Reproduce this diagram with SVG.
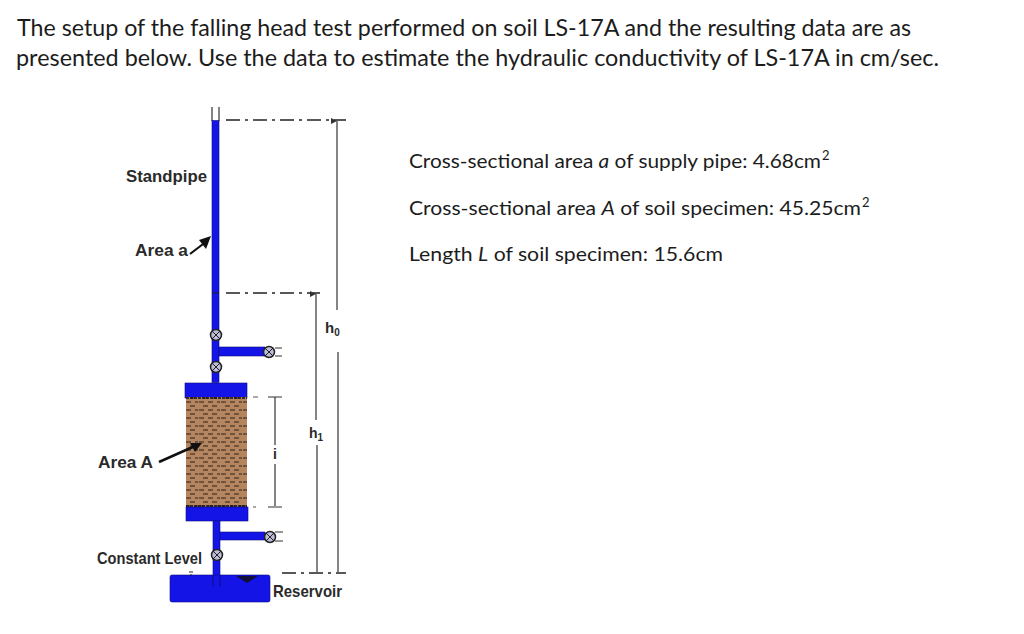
<svg xmlns="http://www.w3.org/2000/svg" width="1024" height="634" viewBox="0 0 1024 634">
<style>
.h{font:23.5px Lato,"Open Sans",sans-serif;fill:#1c1c1c}
.s{font:20px Lato,"Open Sans",sans-serif;fill:#1c1c1c}
.l{font:bold 17px "Liberation Sans",Arial,sans-serif;fill:#2a2a2a}
.w{fill:#1414e6;stroke:#0a0a80;stroke-width:.6}
.d{stroke:#333;stroke-width:1.2;fill:none}
.c{stroke:#222;stroke-width:1.6;fill:none;stroke-dasharray:14 5 3 5}
.v{fill:#bcbcd8;stroke:#222;stroke-width:1.5}
.vx{stroke:#222;stroke-width:1;fill:none}
.soil{stroke:#222;stroke-width:1.1;stroke-dasharray:5 4;fill:none}
</style>
<defs>
<marker id="up" markerWidth="8" markerHeight="8" refX="4" refY="0" orient="auto" markerUnits="userSpaceOnUse"><path d="M4 0L1 6H7Z" fill="#333"/></marker>
<g id="valve"><circle class="v" r="5.5"/><path class="vx" d="M-4-4L4 4M-4 4L4-4"/></g>
<pattern id="sp" width="22" height="8" patternUnits="userSpaceOnUse"><rect width="22" height="8" fill="#b4855f"/><path d="M1 2h5M10 2h5M19 2h3M5 6h5M14 6h5" stroke="#2a2018" stroke-width="1"/></pattern>
</defs>

<g id="title">
<text class="h" x="17" y="36" textLength="894" lengthAdjust="spacingAndGlyphs">The setup of the falling head test performed on soil LS-17A and the resulting data are as</text>
<text class="h" x="16" y="66" textLength="923" lengthAdjust="spacingAndGlyphs">presented below.  Use the data to estimate the hydraulic conductivity of LS-17A in cm/sec.</text>
</g>

<g id="data">
<text class="s" x="409" y="168" textLength="412" lengthAdjust="spacingAndGlyphs">Cross-sectional area <tspan font-style="italic">a</tspan> of supply pipe: 4.68cm</text><text x="822" y="160" style="font:13px Lato,sans-serif;fill:#1c1c1c">2</text>
<text class="s" x="409" y="215" textLength="452" lengthAdjust="spacingAndGlyphs">Cross-sectional area <tspan font-style="italic">A</tspan> of soil specimen: 45.25cm</text><text x="862" y="207" style="font:13px Lato,sans-serif;fill:#1c1c1c">2</text>
<text class="s" x="409" y="261" textLength="314" lengthAdjust="spacingAndGlyphs">Length <tspan font-style="italic">L</tspan> of soil specimen: 15.6cm</text>
</g>

<g id="standpipe">
<path class="d" d="M212 107V121M219 107V121"/>
<rect class="w" x="212" y="120.500" width="7" height="262"/>
<path class="w" d="M219 347H265V356H219Z"/>
<path class="d" d="M275 348H282M275 356H282"/>
<path d="M212 293H219" stroke="#222" stroke-width="1"/>
<use href="#valve" x="216" y="335"/>
<use href="#valve" x="269" y="352"/>
<use href="#valve" x="216" y="367"/>
</g>

<g id="specimen">
<rect class="w" x="185" y="383" width="62" height="15"/>
<rect x="186" y="397" width="61" height="110" fill="url(#sp)"/>
<path d="M186 398H247M186 506H247" stroke="#111" stroke-width="1.6" stroke-dasharray="3 1"/>
<rect class="w" x="186" y="507" width="62" height="14"/>
</g>

<g id="lower-pipe">
<rect class="w" x="213" y="521" width="7" height="56"/>
<path class="w" d="M220 532H265V540H220Z"/>
<path class="d" d="M275 532H283M275 541H283"/>
<use href="#valve" x="270" y="537"/>
<use href="#valve" x="217" y="555"/>
</g>

<g id="reservoir">
<rect class="w" x="170" y="575" width="100" height="27" rx="2"/>
<path d="M236 576H258L247 583Z" fill="#10103a"/>
<path d="M190 575H192M189 572H193" stroke="#222" stroke-width="1"/>
<path d="M213 575V587M220 575V587" stroke="#0a0a80" stroke-width="1"/>
</g>

<g id="connectors">
<path class="c" d="M226 120H346"/>
<path class="c" d="M226 293H320"/>
<path class="c" d="M282 573H346"/>
<path class="d" d="M337 121V310" marker-start="url(#up)"/>
<path class="d" d="M338 352V572"/>
<path class="d" d="M316 294V420" marker-start="url(#up)"/>
<path class="d" d="M317 445V572"/>
<path class="d" d="M275 397V445M275 464V506M268 397H282M268 507H282"/>
<path d="M253 397H258M253 507H256" stroke="#555" stroke-width="1.2"/>
<path d="M190 254L207 241" stroke="#111" stroke-width="2.2"/>
<path d="M211 236L199 240L206 249Z" fill="#111"/>
<path d="M159 462L195 446" stroke="#111" stroke-width="2.6"/>
<path d="M202 443L190 443L195 452Z" fill="#111"/>
</g>

<g id="labels">
<text class="l" x="126" y="182" textLength="81" lengthAdjust="spacingAndGlyphs">Standpipe</text>
<text class="l" x="135" y="256" textLength="53" lengthAdjust="spacingAndGlyphs">Area a</text>
<text class="l" x="98" y="468" textLength="55" lengthAdjust="spacingAndGlyphs">Area A</text>
<text class="l" x="97" y="564" textLength="105" lengthAdjust="spacingAndGlyphs">Constant Level</text>
<text class="l" x="273" y="597" textLength="69" lengthAdjust="spacingAndGlyphs">Reservoir</text>
<text class="l" x="325" y="333" style="font-size:15px">h<tspan font-size="10" dy="3">0</tspan></text>
<text class="l" x="309" y="438" style="font-size:14px">h<tspan font-size="10" dy="3">1</tspan></text>
<text class="l" x="273" y="459" style="font-size:14px">i</text>
</g>
</svg>
